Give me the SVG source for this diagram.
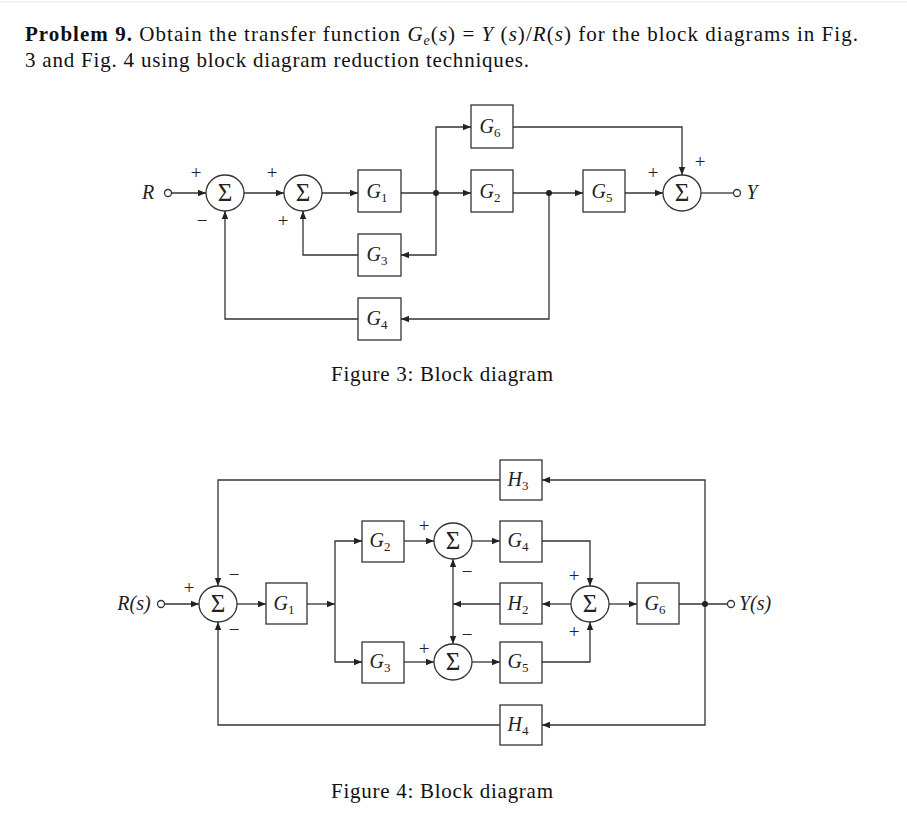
<svg xmlns="http://www.w3.org/2000/svg" width="907" height="832" viewBox="0 0 907 832">
<defs>
<marker id="a" viewBox="0 0 10 10" refX="10" refY="5" markerWidth="8" markerHeight="8" markerUnits="userSpaceOnUse" orient="auto"><path d="M0,1 L10,5 L0,9 z" fill="#222"/></marker>
<style>
.b{fill:#fff;stroke:#333;stroke-width:1.3}
.s{fill:#fff;stroke:#333;stroke-width:1.3}
.l{fill:none;stroke:#333;stroke-width:1.3}
.m{marker-end:url(#a)}
.t{font-family:"Liberation Serif",serif;font-size:21px;fill:#111}
.g{font-family:"Liberation Serif",serif;font-size:20px;font-style:italic;fill:#222;text-anchor:middle}
.sg{font-family:"Liberation Serif",serif;font-size:25px;fill:#222;text-anchor:middle}
.p{font-family:"Liberation Serif",serif;font-size:19px;fill:#222;text-anchor:middle}
.sub{font-size:13px;font-style:normal}
</style>
</defs>
<rect width="907" height="832" fill="#fff"/>
<line x1="0" y1="2" x2="907" y2="2" stroke="#e6e6e6"/>
<text class="t" x="25" y="41" textLength="833" lengthAdjust="spacing"><tspan font-weight="bold">Problem 9.</tspan> Obtain the transfer function <tspan font-style="italic">G</tspan><tspan font-size="14" dy="4" font-style="italic">e</tspan><tspan dy="-4">(</tspan><tspan font-style="italic">s</tspan>) = <tspan font-style="italic">Y</tspan> (<tspan font-style="italic">s</tspan>)/<tspan font-style="italic">R</tspan>(<tspan font-style="italic">s</tspan>) for the block diagrams in Fig.</text>
<text class="t" x="25" y="67" textLength="504" lengthAdjust="spacing">3 and Fig. 4 using block diagram reduction techniques.</text>

<g id="connectors3">
<line class="l m" x1="172" y1="193" x2="206" y2="193"/>
<line class="l m" x1="244" y1="193" x2="284" y2="193"/>
<line class="l m" x1="322" y1="193" x2="358" y2="193"/>
<line class="l m" x1="401" y1="193" x2="471" y2="193"/>
<line class="l m" x1="513" y1="193" x2="583" y2="193"/>
<line class="l m" x1="625" y1="193" x2="663" y2="193"/>
<line class="l" x1="701" y1="193" x2="733" y2="193"/>
<polyline class="l m" points="436,193 436,127 471,127"/>
<polyline class="l m" points="513,127 682,127 682,175"/>
<polyline class="l m" points="436,193 436,255 401,255"/>
<polyline class="l m" points="358,255 303,255 303,211"/>
<polyline class="l m" points="549,193 549,319 401,319"/>
<polyline class="l m" points="358,319 225,319 225,211"/>
<circle cx="436" cy="193" r="3" fill="#222"/>
<circle cx="549" cy="193" r="3" fill="#222"/>
</g>
<g id="R3"><text class="g" x="148" y="199">R</text><circle cx="168" cy="193" r="3.5" class="s"/></g>
<g id="Y3"><circle cx="737" cy="193" r="3.5" class="s"/><text class="g" x="752" y="199">Y</text></g>
<g id="sum1"><ellipse class="s" cx="225" cy="193" rx="19" ry="18"/><text class="sg" x="225" y="201">Σ</text><text class="p" x="196" y="179">+</text><text class="p" x="202" y="227">−</text></g>
<g id="sum2"><ellipse class="s" cx="303" cy="193" rx="19" ry="18"/><text class="sg" x="303" y="201">Σ</text><text class="p" x="272" y="179">+</text><text class="p" x="283" y="227">+</text></g>
<g id="sum3"><ellipse class="s" cx="682" cy="193" rx="19" ry="18"/><text class="sg" x="682" y="201">Σ</text><text class="p" x="653" y="179">+</text><text class="p" x="700" y="168">+</text></g>
<g id="G1"><rect class="b" x="358" y="170" width="43" height="42"/><text class="g" x="377" y="198">G<tspan class="sub" dy="4">1</tspan></text></g>
<g id="G2"><rect class="b" x="471" y="170" width="42" height="42"/><text class="g" x="490" y="198">G<tspan class="sub" dy="4">2</tspan></text></g>
<g id="G5"><rect class="b" x="583" y="170" width="42" height="42"/><text class="g" x="602" y="198">G<tspan class="sub" dy="4">5</tspan></text></g>
<g id="G6"><rect class="b" x="471" y="105" width="42" height="43"/><text class="g" x="490" y="133">G<tspan class="sub" dy="4">6</tspan></text></g>
<g id="G3"><rect class="b" x="358" y="234" width="43" height="42"/><text class="g" x="377" y="261">G<tspan class="sub" dy="4">3</tspan></text></g>
<g id="G4"><rect class="b" x="358" y="298" width="43" height="42"/><text class="g" x="377" y="325">G<tspan class="sub" dy="4">4</tspan></text></g>
<text class="t" x="331" y="381" textLength="222" lengthAdjust="spacing">Figure 3: Block diagram</text>

<g id="connectors4">
<line class="l m" x1="165" y1="604" x2="199" y2="604"/>
<line class="l m" x1="237" y1="604" x2="266" y2="604"/>
<line class="l m" x1="307" y1="604" x2="335" y2="604"/>
<polyline class="l m" points="335,604 335,541 362,541"/>
<polyline class="l m" points="335,604 335,662 362,662"/>
<line class="l m" x1="404" y1="541" x2="434" y2="541"/>
<line class="l m" x1="472" y1="541" x2="500" y2="541"/>
<line class="l m" x1="404" y1="662" x2="434" y2="662"/>
<line class="l m" x1="472" y1="662" x2="500" y2="662"/>
<polyline class="l m" points="542,541 590,541 590,586"/>
<polyline class="l m" points="542,662 590,662 590,622"/>
<line class="l m" x1="571" y1="604" x2="542" y2="604"/>
<line class="l m" x1="500" y1="604" x2="453" y2="604"/>
<line class="l m" x1="453" y1="604" x2="453" y2="559"/>
<line class="l m" x1="453" y1="604" x2="453" y2="644"/>
<line class="l m" x1="609" y1="604" x2="637" y2="604"/>
<line class="l" x1="679" y1="604" x2="727" y2="604"/>
<polyline class="l m" points="705,604 705,480 542,480"/>
<polyline class="l m" points="500,480 218,480 218,586"/>
<polyline class="l m" points="705,604 705,725 542,725"/>
<polyline class="l m" points="500,725 218,725 218,622"/>
<circle cx="705" cy="604" r="3" fill="#222"/>
</g>
<g id="Rs"><text class="g" x="134" y="610">R(s)</text><circle cx="161" cy="604" r="3.5" class="s"/></g>
<g id="Ys"><circle cx="731" cy="604" r="3.5" class="s"/><text class="g" x="755" y="610">Y(s)</text></g>
<g id="sumA"><ellipse class="s" cx="218" cy="604" rx="19" ry="18"/><text class="sg" x="218" y="612">Σ</text><text class="p" x="189" y="594">+</text><text class="p" x="234" y="581">−</text><text class="p" x="234" y="636">−</text></g>
<g id="sumB"><ellipse class="s" cx="453" cy="541" rx="19" ry="18"/><text class="sg" x="453" y="549">Σ</text><text class="p" x="424" y="532">+</text><text class="p" x="467" y="578">−</text></g>
<g id="sumD"><ellipse class="s" cx="453" cy="662" rx="19" ry="18"/><text class="sg" x="453" y="670">Σ</text><text class="p" x="424" y="655">+</text><text class="p" x="467" y="641">−</text></g>
<g id="sumC"><ellipse class="s" cx="590" cy="604" rx="19" ry="18"/><text class="sg" x="590" y="612">Σ</text><text class="p" x="574" y="582">+</text><text class="p" x="574" y="638">+</text></g>
<g id="G1b"><rect class="b" x="266" y="583" width="41" height="41"/><text class="g" x="284" y="610">G<tspan class="sub" dy="4">1</tspan></text></g>
<g id="G2b"><rect class="b" x="362" y="521" width="42" height="41"/><text class="g" x="380" y="547">G<tspan class="sub" dy="4">2</tspan></text></g>
<g id="G3b"><rect class="b" x="362" y="642" width="42" height="41"/><text class="g" x="380" y="668">G<tspan class="sub" dy="4">3</tspan></text></g>
<g id="G4b"><rect class="b" x="500" y="521" width="42" height="41"/><text class="g" x="518" y="547">G<tspan class="sub" dy="4">4</tspan></text></g>
<g id="G5b"><rect class="b" x="500" y="642" width="42" height="41"/><text class="g" x="518" y="668">G<tspan class="sub" dy="4">5</tspan></text></g>
<g id="H2"><rect class="b" x="500" y="583" width="42" height="41"/><text class="g" x="518" y="610">H<tspan class="sub" dy="4">2</tspan></text></g>
<g id="G6b"><rect class="b" x="637" y="583" width="42" height="41"/><text class="g" x="655" y="610">G<tspan class="sub" dy="4">6</tspan></text></g>
<g id="H3"><rect class="b" x="500" y="460" width="42" height="40"/><text class="g" x="518" y="486">H<tspan class="sub" dy="4">3</tspan></text></g>
<g id="H4"><rect class="b" x="500" y="705" width="42" height="40"/><text class="g" x="518" y="731">H<tspan class="sub" dy="4">4</tspan></text></g>
<text class="t" x="331" y="798" textLength="222" lengthAdjust="spacing">Figure 4: Block diagram</text>
</svg>
